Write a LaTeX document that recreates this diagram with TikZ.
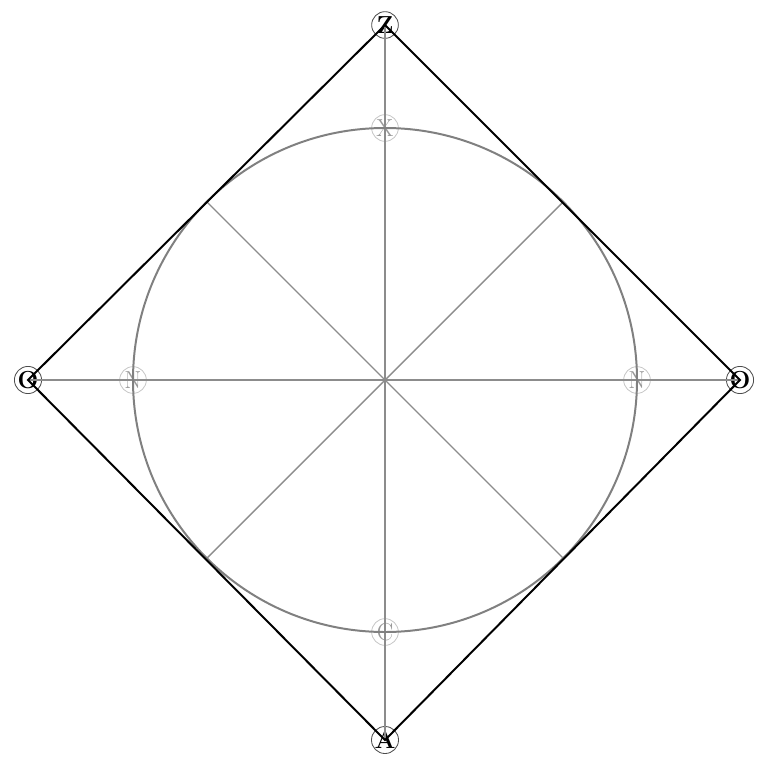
\documentclass[tikz,border=0pt]{standalone}
\usepackage{fontspec}
\setmainfont{Latin Modern Roman}
\begin{document}
\begin{tikzpicture}[x=0.03cm,y=-0.03cm,
  lbl/.style={circle,draw=black!70,line width=0.7pt,minimum size=0.8cm,inner sep=0pt,font=\fontsize{21}{21}\selectfont\bfseries},
  glbl/.style={lbl,draw=black!22,text=black!40,font=\fontsize{21}{21}\selectfont},
  guide/.style={draw=black!45,line width=1.2pt},
  edge/.style={draw=black,line width=1.7pt},
  ring/.style={draw=black!50,line width=1.7pt}]
\useasboundingbox (0,0) rectangle (768,765);
\coordinate (M) at (385,380);
\node[lbl] (Z) at (385,25) {Z};
\node[lbl] (A) at (385,740) {A};
\node[lbl] (OL) at (28,380) {O};
\node[lbl] (OR) at (740,380) {O};
\node[glbl] (X) at (385,128) {X};
\node[glbl] (NL) at (133,380) {N};
\node[glbl] (NR) at (637,380) {N};
\node[glbl] (C) at (385,632) {C};
\coordinate (D1) at (207,202);
\coordinate (D2) at (563,202);
\coordinate (D3) at (207,558);
\coordinate (D4) at (563,558);
\draw[guide] (Z.center) -- (A.center);
\draw[guide] (OL.center) -- (OR.center);
\draw[guide] (D1) -- (D4);
\draw[guide] (D2) -- (D3);
\draw[ring] (M) circle[radius=252];
\draw[edge] (Z.center) -- (OR.center) -- (A.center) -- (OL.center) -- cycle;
\end{tikzpicture}
\end{document}
